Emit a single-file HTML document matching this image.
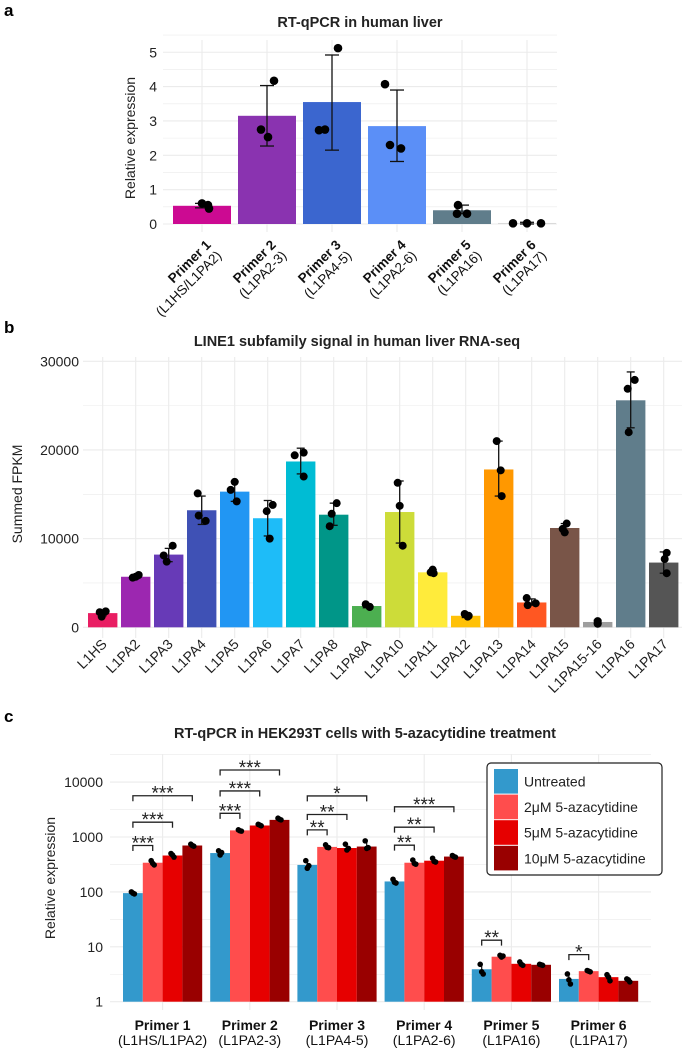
<!DOCTYPE html>
<html><head><meta charset="utf-8"><style>
html,body{margin:0;padding:0;background:#fff;}
svg{display:block;font-family:"Liberation Sans",sans-serif;}
</style></head><body>
<svg id="fig" width="685" height="1048" viewBox="0 0 685 1048" xmlns="http://www.w3.org/2000/svg">
<rect width="685" height="1048" fill="#fff"/>
<text x="4" y="16" font-size="17" font-weight="bold">a</text>
<text x="360" y="27" font-size="14.5" font-weight="bold" text-anchor="middle" fill="#222">RT-qPCR in human liver</text>
<text x="0" y="0" font-size="14" text-anchor="middle" fill="#222" transform="translate(135,138) rotate(-90)">Relative expression</text>
<text x="4" y="333" font-size="17" font-weight="bold">b</text>
<text x="357" y="346" font-size="14.5" font-weight="bold" text-anchor="middle" fill="#222">LINE1 subfamily signal in human liver RNA-seq</text>
<text x="0" y="0" font-size="14" text-anchor="middle" fill="#222" transform="translate(22,494) rotate(-90)">Summed FPKM</text>
<text x="4" y="722" font-size="17" font-weight="bold">c</text>
<text x="365" y="738" font-size="14.5" font-weight="bold" text-anchor="middle" fill="#222">RT-qPCR in HEK293T cells with 5-azacytidine treatment</text>
<text x="0" y="0" font-size="14" text-anchor="middle" fill="#222" transform="translate(55,878) rotate(-90)">Relative expression</text>
<g id="ga"></g><g id="gb"></g><g id="gc"></g>
</svg>
<script>
// ---------- Panel A data ----------
const aCats = ["Primer 1","Primer 2","Primer 3","Primer 4","Primer 5","Primer 6"];
const aSubs = ["(L1HS/L1PA2)","(L1PA2-3)","(L1PA4-5)","(L1PA2-6)","(L1PA16)","(L1PA17)"];
const aMeans = [0.53,3.15,3.55,2.85,0.4,0.03];
const aErrLo = [0.47,2.27,2.15,1.82,0.3,0.0];
const aErrHi = [0.6,4.03,4.92,3.9,0.55,0.05];
const aPts = [[0.6,0.55,0.45],[4.17,2.75,2.53],[2.73,2.75,5.12],[4.07,2.3,2.2],[0.55,0.3,0.3],[0.02,0.02,0.02]];
const aTicks = [0,1,2,3,4,5];
const aColors = ["#cc0a92","#8a33b0","#3b66cf","#5b8ff7","#607d8b","#dadada"];
const aJit = [[0,6,7],[7,-6,1],[-13,-7,6],[-12,-7,4],[-4,5,-5],[-14,0,14]];
// ---------- Panel B data ----------
const bCats = ["L1HS","L1PA2","L1PA3","L1PA4","L1PA5","L1PA6","L1PA7","L1PA8","L1PA8A","L1PA10","L1PA11","L1PA12","L1PA13","L1PA14","L1PA15","L1PA15-16","L1PA16","L1PA17"];
const bMeans = [1600,5700,8200,13200,15300,12300,18700,12700,2400,13000,6200,1300,17800,2800,11200,600,25600,7300];
const bErrLo = [1300,5500,7400,11600,14200,10300,17300,11500,2200,9500,6000,1100,14800,2500,10700,400,22500,6100];
const bErrHi = [1900,5900,8900,14800,16400,14300,20200,14000,2600,16500,6500,1600,21000,3200,11700,800,28800,8500];
const bPts = [[1700,1200,1800],[5600,5700,5900],[8100,7400,9200],[15100,12600,12000],[15500,16400,14200],[13100,13800,10000],[19400,19700,17000],[11400,12800,14000],[2600,2300,2300],[16300,13700,9200],[6200,6500,6100],[1500,1200,1300],[21000,17700,14800],[3300,2500,2700],[11100,10700,11700],[700,400,500],[26900,27900,22000],[8400,7700,6100]];
const bTicks = [0,10000,20000,30000];
const bColors = ["#e91e63","#9c27b0","#673ab7","#3f51b5","#2196f3","#1ebcf8","#00bcd4","#009688","#4caf50","#cddc39","#ffeb3b","#ffc107","#ff9800","#ff5722","#795548","#9e9e9e","#607d8b","#555555"];
const bJit = [[-3,-1,3],[-3,0,3],[-5,-2,4],[-4,-3,4],[-4,0,2],[-1,5,2],[-6,3,3],[-4,-2,3],[-1,3,3],[-2,0,3],[-2,0,1],[-1,2,3],[-2,2,3],[-5,-4,4],[-2,0,2],[0,0,0],[-3,4,-2],[3,1,3]];
// ---------- Panel C data ----------
const cGroups = ["Primer 1","Primer 2","Primer 3","Primer 4","Primer 5","Primer 6"];
const cSubs = ["(L1HS/L1PA2)","(L1PA2-3)","(L1PA4-5)","(L1PA2-6)","(L1PA16)","(L1PA17)"];
const cSeries = ["Untreated","2\u03bcM 5-azacytidine","5\u03bcM 5-azacytidine","10\u03bcM 5-azacytidine"];
const cUntreated = [95,510,310,155,3.9,2.6];
const c2uM = [340,1320,660,340,6.6,3.6];
const c5uM = [460,1620,630,370,4.9,2.8];
const c10uM = [700,2050,670,440,4.7,2.4];
const cPtsUntreated = [[100,95,92],[560,470,520],[370,270,300],[170,150,145],[4.8,3.5,3.2],[3.2,2.5,2.1]];
const cPts2uM = [[370,330,310],[1350,1300,1280],[720,650,640],[380,330,320],[7,6.5,6.8],[3.7,3.6,3.5]];
const cPts5uM = [[500,470,430],[1700,1650,1600],[740,580,620],[410,360,350],[5.3,4.8,4.6],[3.1,2.8,2.4]];
const cPts10uM = [[740,700,680],[2200,2100,2050],[850,620,640],[460,440,430],[4.8,4.7,4.6],[2.6,2.5,2.3]];
const cTicks = [1,10,100,1000,10000];
const cTickLabels = ["1","10","100","1000","10000"];
const cSigGroup = [0,0,0,1,1,1,2,2,2,3,3,3,4,5];
const cSigTarget = [1,2,3,1,2,3,1,2,3,1,2,3,1,1];
const cSigY = [700,1860,5650,2700,6900,16600,1350,2570,5600,710,1510,3550,13.2,7.2];
const cSigLabel = ["***","***","***","***","***","***","**","**","*","**","**","***","**","*"];
const cColors = ["#3399cc","#ff4d4d","#e60000","#990000"];

const NS="http://www.w3.org/2000/svg";
function mk(parent,tag,attrs){const e=document.createElementNS(NS,tag);for(const k in attrs)e.setAttribute(k,attrs[k]);parent.appendChild(e);return e;}

// ===== Panel A =====
(function(){
const g=document.getElementById('ga');
const L=163,R=557,T=40,B=232;
const y=v=>224-v*34.35;
const x=i=>202+i*65;
for(let v=0.5;v<5.6;v+=0.5){const l=mk(g,'line',{x1:L,x2:R,y1:y(v),y2:y(v),stroke:'#ebebeb','stroke-width':(v%1===0)?1.1:0.6});}
mk(g,'line',{x1:L,x2:R,y1:y(0),y2:y(0),stroke:'#ebebeb','stroke-width':1.1});
aCats.forEach((c,i)=>{const l=mk(g,'line',{x1:x(i),x2:x(i),y1:T,y2:B,stroke:'#ebebeb','stroke-width':1.1});});
aTicks.forEach(t=>{const e=mk(g,'text',{x:157,y:y(t)+5,'font-size':14,'text-anchor':'end',fill:'#222'});e.textContent=t;});
aMeans.forEach((m,i)=>{
 const r=mk(g,'rect',{x:x(i)-29,y:y(m),width:58,height:y(0)-y(m),fill:aColors[i]});
 
 
 const eg=mk(g,'g',{stroke:'#111','stroke-width':1.3});
 
 
 mk(eg,'line',{x1:x(i),x2:x(i),y1:y(aErrLo[i]),y2:y(aErrHi[i])});
 mk(eg,'line',{x1:x(i)-7,x2:x(i)+7,y1:y(aErrLo[i]),y2:y(aErrLo[i])});
 mk(eg,'line',{x1:x(i)-7,x2:x(i)+7,y1:y(aErrHi[i]),y2:y(aErrHi[i])});
 aPts[i].forEach((p,j)=>{const c=mk(g,'circle',{cx:x(i)+aJit[i][j],cy:y(p),r:4.3,fill:'#000'});});
 const t=mk(g,'text',{'font-size':13.5,'text-anchor':'end',fill:'#111',transform:'translate('+(x(i)+4)+',240) rotate(-45)'});
 
 
 const t1=mk(t,'tspan',{x:0,y:8,'font-weight':'bold'});t1.textContent=aCats[i];
 const t2=mk(t,'tspan',{x:0,y:23});t2.textContent=aSubs[i];
});
})();

// ===== Panel B =====
(function(){
const g=document.getElementById('gb');
const L=83,R=682,T=357,B=638;
const y=v=>627.3-v*0.008867;
const x=i=>102.7+i*33;
for(let v=5000;v<=30000;v+=5000){const l=mk(g,'line',{x1:L,x2:R,y1:y(v),y2:y(v),stroke:'#ebebeb','stroke-width':(v%10000===0)?1.1:0.6});}
mk(g,'line',{x1:L,x2:R,y1:y(0),y2:y(0),stroke:'#ebebeb','stroke-width':1.1});
bCats.forEach((c,i)=>{const l=mk(g,'line',{x1:x(i),x2:x(i),y1:T,y2:B,stroke:'#ebebeb','stroke-width':1.1});});
bTicks.forEach(t=>{const e=mk(g,'text',{x:79,y:y(t)+5,'font-size':14,'text-anchor':'end',fill:'#222'});e.textContent=t;});
bMeans.forEach((m,i)=>{
 const r=mk(g,'rect',{x:x(i)-14.7,y:y(m),width:29.4,height:y(0)-y(m),fill:bColors[i]});
 
 
 const eg=mk(g,'g',{stroke:'#111','stroke-width':1.3});
 
 
 mk(eg,'line',{x1:x(i),x2:x(i),y1:y(bErrLo[i]),y2:y(bErrHi[i])});
 mk(eg,'line',{x1:x(i)-4,x2:x(i)+4,y1:y(bErrLo[i]),y2:y(bErrLo[i])});
 mk(eg,'line',{x1:x(i)-4,x2:x(i)+4,y1:y(bErrHi[i]),y2:y(bErrHi[i])});
 bPts[i].forEach((p,j)=>{const c=mk(g,'circle',{cx:x(i)+bJit[i][j],cy:y(p),r:4,fill:'#000'});});
 const t=mk(g,'text',{'font-size':14,'text-anchor':'end',fill:'#222',transform:'translate('+(x(i)+5)+',645) rotate(-45)'});
 t.textContent=bCats[i];
 
 
});
})();

// ===== Panel C =====
(function(){
const g=document.getElementById('gc');
const L=110,R=651,T=754,B=1010;
const dec=54.9;
const y=v=>1001.7-Math.log10(v)*dec;
const gx=i=>162.6+i*87.2;
const bw=19.8;
const bx=(i,s)=>gx(i)+(s-1.5)*bw;
const series=[cUntreated,c2uM,c5uM,c10uM];
const pts=[cPtsUntreated,cPts2uM,cPts5uM,cPts10uM];
for(let k=0;k<4;k++){const yy=y(Math.pow(10,k+0.5));const l=mk(g,'line',{x1:L,x2:R,y1:yy,y2:yy,stroke:'#ebebeb','stroke-width':0.6});}
mk(g,'line',{x1:L,x2:R,y1:y(31623),y2:y(31623),stroke:'#ebebeb','stroke-width':0.6});
cTicks.forEach((t,k)=>{const l=mk(g,'line',{x1:L,x2:R,y1:y(t),y2:y(t),stroke:'#ebebeb','stroke-width':1.1});
 const e=mk(g,'text',{x:103,y:y(t)+5,'font-size':14,'text-anchor':'end',fill:'#222'});e.textContent=cTickLabels[k];});
cGroups.forEach((c,i)=>{const l=mk(g,'line',{x1:gx(i),x2:gx(i),y1:T,y2:B,stroke:'#ebebeb','stroke-width':1.1});});
cGroups.forEach((c,i)=>{
 series.forEach((arr,s)=>{
  const v=arr[i];
  const r=mk(g,'rect',{x:bx(i,s)-bw/2,y:y(v),width:bw,height:y(1)-y(v),fill:cColors[s]});
  
  
  const p=pts[s][i];
  const lo=Math.min(...p),hi=Math.max(...p);
  const el=mk(g,'line',{x1:bx(i,s),x2:bx(i,s),y1:y(lo),y2:y(hi),stroke:'#111','stroke-width':1.2});
  
  
  p.forEach((pv,j)=>{const cc=mk(g,'circle',{cx:bx(i,s)+(j-1)*1.5,cy:y(pv),r:2.8,fill:'#000'});});
 });
 const t=mk(g,'text',{x:gx(i),y:1030,'font-size':14,'font-weight':'bold','text-anchor':'middle',fill:'#111'});
 t.textContent=c;
 
 
 const t2=mk(g,'text',{x:gx(i),y:1045,'font-size':14,'text-anchor':'middle',fill:'#111'});
 t2.textContent=cSubs[i];
 
 
});
cSigY.forEach((v,k)=>{
 const i=cSigGroup[k];
 const x1=bx(i,0),x2=bx(i,cSigTarget[k]),yy=y(v);
 const p=mk(g,'path',{d:'M'+x1+' '+(yy+5.5)+'V'+yy+'H'+x2+'V'+(yy+5.5),fill:'none',stroke:'#222','stroke-width':1.3});
 
 
 const t=mk(g,'text',{x:(x1+x2)/2,y:yy+4,'font-size':19,'text-anchor':'middle',fill:'#222'});
 t.textContent=cSigLabel[k];
 
 
});
const lg=mk(g,'g',{});


mk(lg,'rect',{x:487,y:763,width:175,height:112,rx:4,fill:'#fff',stroke:'#222','stroke-width':1.2});
cSeries.forEach((s,k)=>{
 const ky=769+k*25.6;
 const r=mk(lg,'rect',{x:494,y:ky,width:24,height:24.6,fill:cColors[k]});
 
 
 const t=mk(lg,'text',{x:524,y:ky+17.5,'font-size':14,fill:'#222'});
 t.textContent=s;
 
 
});
})();
</script>
</body></html>
